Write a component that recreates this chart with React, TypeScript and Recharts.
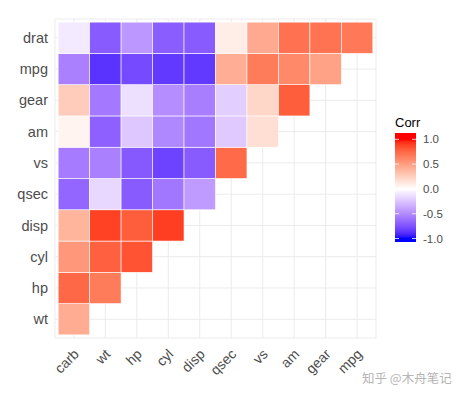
import React from "react";
import { ScatterChart, Scatter, XAxis, YAxis, CartesianGrid } from "recharts";

// variables along the x axis (left to right) and y axis (bottom to top)
const xVars = ["carb", "wt", "hp", "cyl", "disp", "qsec", "vs", "am", "gear", "mpg"];
const yVars = ["wt", "hp", "cyl", "disp", "qsec", "vs", "am", "gear", "mpg", "drat"];

// correlations, one row per y variable, columns follow xVars
const wtRow = [0.43];
const hpRow = [0.75, 0.66];
const cylRow = [0.53, 0.78, 0.83];
const dispRow = [0.39, 0.89, 0.79, 0.9];
const qsecRow = [-0.66, -0.17, -0.71, -0.59, -0.43];
const vsRow = [-0.57, -0.55, -0.72, -0.81, -0.71, 0.74];
const amRow = [0.06, -0.69, -0.24, -0.52, -0.59, -0.23, 0.17];
const gearRow = [0.27, -0.58, -0.13, -0.49, -0.56, -0.21, 0.21, 0.79];
const mpgRow = [-0.55, -0.87, -0.78, -0.85, -0.85, 0.42, 0.66, 0.6, 0.48];
const dratRow = [-0.09, -0.71, -0.45, -0.7, -0.71, 0.09, 0.44, 0.71, 0.7, 0.68];

const rows = [wtRow, hpRow, cylRow, dispRow, qsecRow, vsRow, amRow, gearRow, mpgRow, dratRow];
const legendTicks = [1, 0.5, 0, -0.5, -1];

const cells = rows.flatMap((row, yi) => row.map((value, xi) => ({ x: xi, y: yi, value })));

const W = 474;
const H = 398;
const margin = { top: 19, right: 98, bottom: 10, left: 0 };
const yAxisW = 55;
const xAxisH = 50;
const plotW = W - margin.left - margin.right - yAxisW;
const plotH = H - margin.top - margin.bottom - xAxisH;
const domain: [number, number] = [-0.6, 9.6];
const span = domain[1] - domain[0];
const cellW = plotW / span;
const cellH = plotH / span;

const FONT = "'Liberation Sans', Arial, Helvetica, sans-serif";
const TEXT = "#4d4d4d";

// blue - white - red gradient interpolated in Lab space (like scale_fill_gradient2)
const LAB_WHITE = [100, 0, 0];
const LAB_BLUE = [32.3, 79.19, -107.86];
const LAB_RED = [53.24, 80.09, 67.2];

function labToHex(L: number, a: number, b: number) {
  const fy = (L + 16) / 116;
  const fx = fy + a / 500;
  const fz = fy - b / 200;
  const inv = (t: number) => (t > 0.206893 ? t * t * t : (t - 16 / 116) / 7.787);
  const X = 0.95047 * inv(fx);
  const Y = inv(fy);
  const Z = 1.08883 * inv(fz);
  const lin = [
    3.2404542 * X - 1.5371385 * Y - 0.4985314 * Z,
    -0.969266 * X + 1.8760108 * Y + 0.041556 * Z,
    0.0556434 * X - 0.2040259 * Y + 1.0572252 * Z,
  ];
  return (
    "#" +
    lin
      .map((v) => {
        const g = v <= 0.0031308 ? 12.92 * v : 1.055 * Math.pow(v, 1 / 2.4) - 0.055;
        const c = Math.round(Math.min(1, Math.max(0, g)) * 255);
        return c.toString(16).padStart(2, "0");
      })
      .join("")
  );
}

function corrColor(v: number) {
  const t = Math.min(1, Math.abs(v));
  const end = v >= 0 ? LAB_RED : LAB_BLUE;
  return labToHex(
    LAB_WHITE[0] + (end[0] - LAB_WHITE[0]) * t,
    LAB_WHITE[1] + (end[1] - LAB_WHITE[1]) * t,
    LAB_WHITE[2] + (end[2] - LAB_WHITE[2]) * t
  );
}

const Tile = (props: any) => {
  const { cx, cy, payload } = props;
  return (
    <rect
      x={cx - cellW / 2}
      y={cy - cellH / 2}
      width={cellW}
      height={cellH}
      fill={corrColor(payload.value)}
      stroke="#ffffff"
      strokeWidth={0.6}
    />
  );
};

const XTick = (props: any) => {
  const { x, y, payload } = props;
  const tx = x + 6;
  const ty = y + 17;
  return (
    <text
      x={tx}
      y={ty}
      textAnchor="end"
      transform={`rotate(-45 ${tx} ${ty})`}
      fontSize={14}
      fontFamily={FONT}
      fill={TEXT}
    >
      {xVars[payload.value]}
    </text>
  );
};

const YTick = (props: any) => {
  const { x, y, payload } = props;
  return (
    <text x={x} y={y} dy="0.355em" textAnchor="end" fontSize={14.5} fontFamily={FONT} fill={TEXT}>
      {yVars[payload.value]}
    </text>
  );
};

// colour bar legend
const barX = 395;
const barTop = 133;
const barW = 21;
const barH = 109;
const limTop = 139.3;
const limBottom = 238.5;
const valueToBarY = (v: number) => limTop + ((1 - v) / 2) * (limBottom - limTop);

function ColorBar() {
  const stops = Array.from({ length: 41 }, (_, i) => 1 - i / 20);
  return (
    <svg
      width={W}
      height={H}
      style={{ position: "absolute", left: 0, top: 0, pointerEvents: "none" }}
    >
      <defs>
        <linearGradient id="corrGrad" x1="0" y1={barTop} x2="0" y2={barTop + barH} gradientUnits="userSpaceOnUse">
          {stops.map((v) => (
            <stop
              key={v}
              offset={(valueToBarY(Math.max(-1, Math.min(1, v))) - barTop) / barH}
              stopColor={corrColor(v)}
            />
          ))}
        </linearGradient>
      </defs>
      <text x={barX} y={127} fontSize={13} fontFamily={FONT} fill="#000000">
        Corr
      </text>
      <rect x={barX} y={barTop} width={barW} height={barH} fill="url(#corrGrad)" />
      {legendTicks.map((v) => (
        <g key={v}>
          <line x1={barX} x2={barX + 4} y1={valueToBarY(v)} y2={valueToBarY(v)} stroke="#ffffff" strokeWidth={0.8} />
          <line x1={barX + barW - 4} x2={barX + barW} y1={valueToBarY(v)} y2={valueToBarY(v)} stroke="#ffffff" strokeWidth={0.8} />
          <text x={423} y={valueToBarY(v)} dy="0.355em" fontSize={11.5} fontFamily={FONT} fill={TEXT}>
            {v.toFixed(1)}
          </text>
        </g>
      ))}
      <text x={362} y={383} fontSize={12.5} fontFamily="'Noto Sans CJK SC', sans-serif" fill="#b5b5b5">
        知乎 @木舟笔记
      </text>
    </svg>
  );
}

export default function App() {
  const ticks = xVars.map((_, i) => i);
  return (
    <div style={{ position: "absolute", left: 0, top: 0, width: W, height: H, background: "#ffffff" }}>
      <ScatterChart width={W} height={H} margin={margin}>
        <CartesianGrid stroke="#ebebeb" strokeWidth={1} />
        <XAxis
          type="number"
          dataKey="x"
          domain={domain}
          ticks={ticks}
          interval={0}
          height={xAxisH}
          axisLine={false}
          tickLine={false}
          tickSize={0}
          tickMargin={0}
          tick={<XTick />}
        />
        <YAxis
          type="number"
          dataKey="y"
          domain={domain}
          ticks={ticks}
          interval={0}
          width={yAxisW}
          axisLine={false}
          tickLine={false}
          tickSize={0}
          tickMargin={7}
          tick={<YTick />}
        />
        <Scatter data={cells} shape={<Tile />} isAnimationActive={false} />
      </ScatterChart>
      <ColorBar />
    </div>
  );
}
